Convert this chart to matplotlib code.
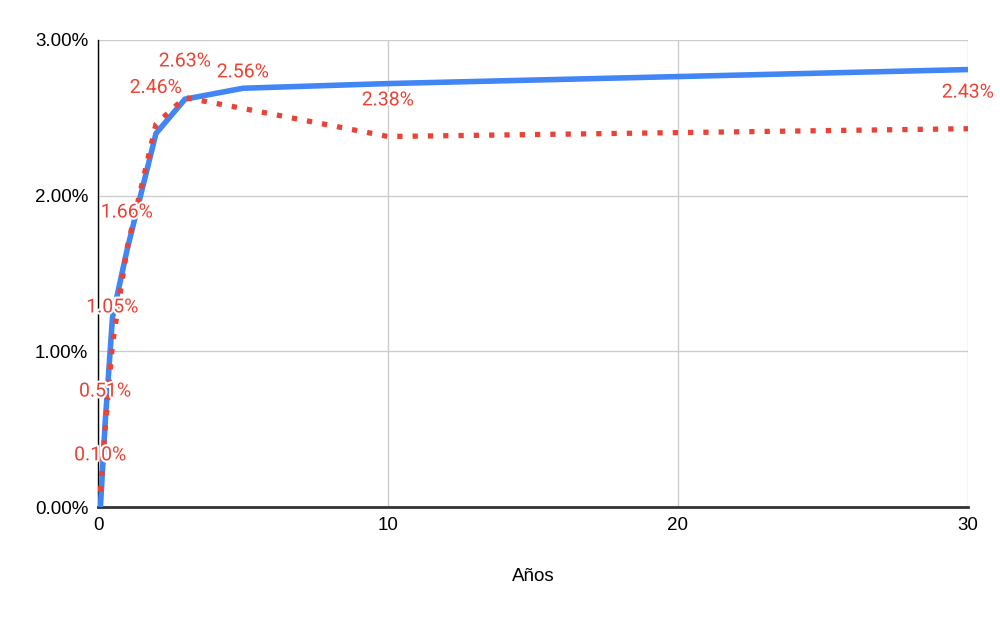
import matplotlib
matplotlib.use("Agg")
import matplotlib.pyplot as plt
import matplotlib.patheffects as pe
from matplotlib.ticker import FuncFormatter

# maturities in years
years = [1 / 12, 0.25, 0.5, 1, 2, 3, 5, 10, 30]
blue_vals = [0.00, 0.55, 1.22, 1.65, 2.40, 2.62, 2.69, 2.72, 2.81]
red_vals = [0.10, 0.51, 1.05, 1.66, 2.46, 2.63, 2.56, 2.38, 2.43]
x_ticks = [0, 10, 20, 30]
y_ticks = [0, 1, 2, 3]

BLUE = "#4285F4"
RED = "#EA4335"

plt.rcParams["font.family"] = ["Liberation Sans", "DejaVu Sans"]

fig = plt.figure(figsize=(10, 6.18), dpi=100)
ax = fig.add_axes([0.098, 0.1796, 0.870, 0.7557])

ax.plot(years, blue_vals, color=BLUE, lw=4, solid_capstyle="butt",
        solid_joinstyle="round", zorder=3)
ax.plot(years, red_vals, color=RED, lw=3.8, linestyle=(0, (1, 1.9)),
        dash_capstyle="butt", zorder=4)

for x, v in zip(years, red_vals):
    ax.annotate(f"{v:.2f}%", (x, v), xytext=(0, 26), textcoords="offset points",
                ha="center", va="center", color=RED, fontsize=14,
                family=["Roboto", "DejaVu Sans"], annotation_clip=False,
                path_effects=[pe.withStroke(linewidth=3, foreground="white")],
                zorder=5)

ax.set_xlim(0, 30)
ax.set_ylim(0, 3)
ax.set_xticks(x_ticks)
ax.set_yticks(y_ticks)
ax.yaxis.set_major_formatter(FuncFormatter(lambda v, _: f"{v:.2f}%"))
ax.tick_params(length=0, labelsize=13.5, pad=7, colors="#000000")
ax.grid(color="#cccccc", lw=1)
ax.set_axisbelow(True)

for side in ["top", "right"]:
    ax.spines[side].set_visible(False)
ax.spines["left"].set_color("#000000")
ax.spines["left"].set_linewidth(1)
ax.spines["bottom"].set_color("#333333")
ax.spines["bottom"].set_linewidth(2)
ax.spines["left"].set_zorder(2)

ax.set_xlabel("Años", fontsize=13.5, labelpad=25)

fig.savefig("out.png", dpi=100)
